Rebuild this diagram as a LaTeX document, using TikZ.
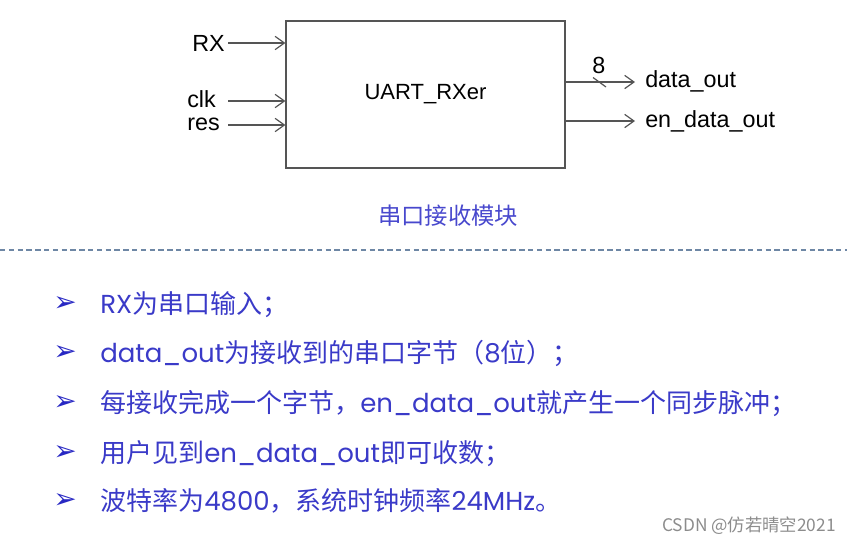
\documentclass[tikz,border=0pt]{standalone}
\usepackage{fontspec}
\setmainfont{Liberation Sans}
\newfontfamily\cjk{Noto Sans CJK SC}
\newfontfamily\geo{Poppins}
\newfontfamily\dingfont{DejaVu Sans}
\newcommand\geotext[1]{{\geo #1}}
\usetikzlibrary{arrows.meta,positioning}
\definecolor{boxgray}{RGB}{85,85,85}
\definecolor{itemblue}{RGB}{58,58,200}
\definecolor{capblue}{RGB}{72,72,205}
\definecolor{dashblue}{RGB}{110,135,165}
\definecolor{markblue}{RGB}{40,40,195}

\begin{document}
\begin{tikzpicture}[x=0.75pt,y=-0.75pt,
  port/.style={anchor=base west,inner sep=0pt,font=\fontsize{17.5}{20}\selectfont},
  sig/.style={draw=boxgray,line width=0.9pt,-{Straight Barb[length=7pt,width=10pt,line width=0.9pt]}},
  item/.style={anchor=base west,inner sep=0pt,text=itemblue,font=\fontsize{19.5}{24}\selectfont\cjk},
  bulletmark/.style={inner sep=0pt,text=markblue,font=\fontsize{21}{24}\selectfont\dingfont}
]
  \useasboundingbox (0,0) rectangle (847,544);

  \node[draw=boxgray,line width=1.1pt,minimum width=209pt,minimum height=110pt,font=\fontsize{16.5}{20}\selectfont] (rxer) at (425.5,94.5) {UART\_RXer};

  % inputs
  \node[port] (rx) at (192,51) {RX};
  \node[port] (clk) at (187,107) {clk};
  \node[port] (res) at (187,130) {res};
  \coordinate (rxin) at (228,43);
  \coordinate (clkin) at (228,101);
  \coordinate (resin) at (228,125);
  \draw[sig] (rxin) -- (rxin -| rxer.west);
  \draw[sig] (clkin) -- (clkin -| rxer.west);
  \draw[sig] (resin) -- (resin -| rxer.west);

  % outputs
  \coordinate (dout) at (635,82);
  \coordinate (enout) at (635,121);
  \draw[sig] (dout -| rxer.east) -- (dout);
  \draw[sig] (enout -| rxer.east) -- (enout);
  \draw[boxgray,line width=0.9pt] (593,77.5) -- (606,87);
  \node[port] (buswidth) at (592,73) {8};
  \node[port] (dataout) at (645,87) {data\_out};
  \node[port] (endataout) at (645,127) {en\_data\_out};

  \node[text=capblue,font=\fontsize{17.5}{20}\selectfont\cjk] (caption) at (448,216) {串口接收模块};

  \draw[dashblue,line width=1pt,dash pattern=on 4pt off 2.6pt] (0,250) -- (847,250);

  % notes
  \node[bulletmark] (b1) at (65,304) {➢};
  \node[bulletmark] (b2) at (65,353) {➢};
  \node[bulletmark] (b3) at (65,403) {➢};
  \node[bulletmark] (b4) at (65,453) {➢};
  \node[bulletmark] (b5) at (65,501) {➢};
  \node[item] (t1) at (100,313) {\geotext{RX}为串口输入；};
  \node[item] (t2) at (100,362) {\geotext{data\_out}为接收到的串口字节（\geotext{8}位）；};
  \node[item] (t3) at (100,412) {每接收完成一个字节，\geotext{en\_data\_out}就产生一个同步脉冲；};
  \node[item] (t4) at (100,462) {用户见到\geotext{en\_data\_out}即可收数；};
  \node[item] (t5) at (100,510) {波特率为\geotext{4800}，系统时钟频率\geotext{24MHz}。};

  \node[anchor=base east,inner sep=0pt,text=black!45,font=\fontsize{13}{15}\selectfont\cjk] (mark) at (836,531) {CSDN @仿若晴空2021};
\end{tikzpicture}
\end{document}
